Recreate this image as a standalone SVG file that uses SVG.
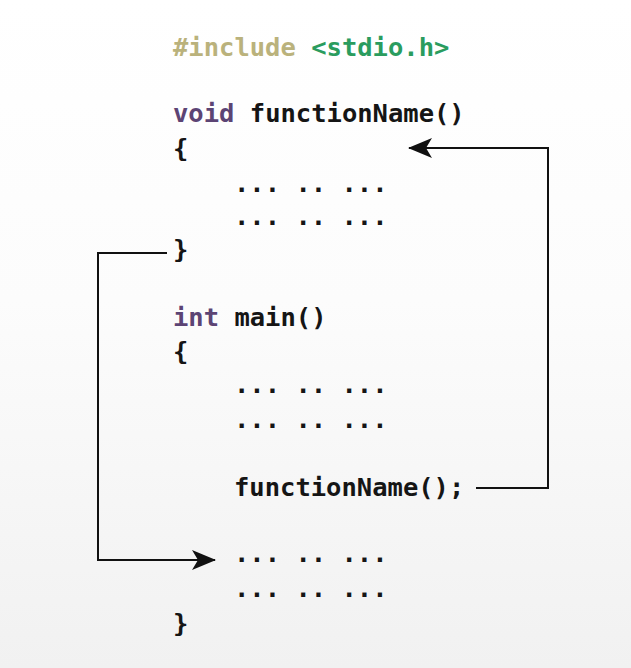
<svg xmlns="http://www.w3.org/2000/svg" width="631" height="668" viewBox="0 0 631 668">
  <defs>
    <linearGradient id="bg" x1="0" y1="0" x2="0" y2="1">
      <stop offset="0" stop-color="#ffffff"/>
      <stop offset="0.45" stop-color="#fcfcfc"/>
      <stop offset="1" stop-color="#f1f1f1"/>
    </linearGradient>
    <marker id="arrow" viewBox="0 0 24 20" markerWidth="24" markerHeight="20" refX="23" refY="10" orient="auto" markerUnits="userSpaceOnUse">
      <path d="M0,0 L24,10 L0,20 L6,10 Z" fill="#111111"/>
    </marker>
  </defs>
  <style>
    .code { font-family: "DejaVu Sans Mono", "Liberation Mono", monospace; font-size: 25.5px; font-weight: bold; fill: #151515; white-space: pre; }
    .pp { fill: #bab27c; }
    .hdr { fill: #2a9c5e; }
    .kw { fill: #5c4474; }
    .conn { fill: none; stroke: #111111; stroke-width: 2; }
  </style>
  <rect x="0" y="0" width="631" height="668" fill="url(#bg)"/>

  <g id="include">
    <text class="code" x="173" y="56"><tspan class="pp">#include</tspan> <tspan class="hdr">&lt;stdio.h&gt;</tspan></text>
  </g>

  <g id="functionName-def">
    <text class="code" x="173" y="122"><tspan class="kw">void</tspan> functionName()</text>
    <text class="code" x="173" y="157">{</text>
    <text class="code" x="234" y="191.5">... .. ...</text>
    <text class="code" x="234" y="224.5">... .. ...</text>
    <text class="code" x="173" y="258">}</text>
  </g>

  <g id="main-def">
    <text class="code" x="173" y="326"><tspan class="kw">int</tspan> main()</text>
    <text class="code" x="173" y="360">{</text>
    <text class="code" x="234" y="393">... .. ...</text>
    <text class="code" x="234" y="428">... .. ...</text>
    <text class="code" x="234" y="496">functionName();</text>
    <text class="code" x="234" y="562">... .. ...</text>
    <text class="code" x="234" y="597">... .. ...</text>
    <text class="code" x="173" y="632">}</text>
  </g>

  <g id="connectors">
    <path class="conn" d="M476,488 H548 V148 H409" marker-end="url(#arrow)"/>
    <path class="conn" d="M167,253 H98 V560 H215" marker-end="url(#arrow)"/>
  </g>
</svg>
